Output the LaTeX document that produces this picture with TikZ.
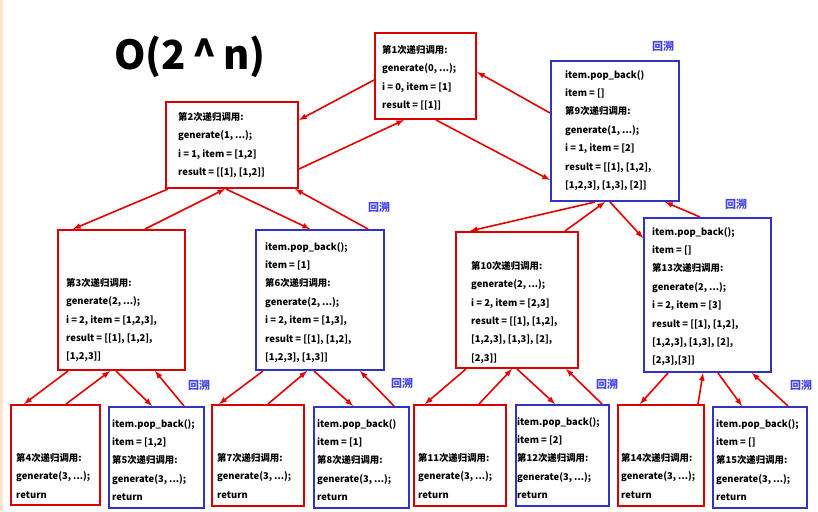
\documentclass[tikz,border=0pt]{standalone}
\usepackage{fontspec}
\setmainfont{Noto Sans CJK SC}
\begin{document}
\begin{tikzpicture}[x=1pt,y=-1pt,
  rbox/.style={draw=red!85!black,line width=2pt,anchor=north west,inner sep=0pt},
  bbox/.style={draw=blue!70!black!80!white,line width=2pt,anchor=north west,inner sep=0pt},
  txt/.style={anchor=north west,inner sep=0pt,yshift=-3pt,align=left,font=\fontsize{9.4}{18.4}\selectfont\bfseries},
  hs/.style={anchor=center,inner sep=0pt,text=blue!70!white!90!black,font=\fontsize{11}{12}\selectfont\bfseries},
  arr/.style={draw=red!90!black,line width=1.6pt,-latex}]
\fill[white] (0,0) rectangle (818,511);
\fill[orange!20!white] (0,0) rectangle (3,511);
\useasboundingbox (0,0) rectangle (818,511);
\node[anchor=center,font=\fontsize{40}{42}\selectfont\bfseries] (title) at (190,57) {O(2\,\^{}\,n)};
% boxes
\newcommand\bx[6]{\node[#1,minimum width=#4,minimum height=#5] (#6) at (#2,#3) {};}
\bx{rbox}{374}{32}{101}{86}{b1}
\bx{rbox}{165}{101}{132}{86}{b2}
\bx{bbox}{550}{60}{128}{140}{b9}
\bx{rbox}{57}{229}{127}{140}{b3}
\bx{bbox}{255}{229}{128}{140}{b6}
\bx{rbox}{455}{231}{122}{136}{b10}
\bx{bbox}{643}{217}{127}{154}{b13}
\bx{rbox}{10}{404}{89}{100}{b4}
\bx{bbox}{108}{406}{95}{101}{b5}
\bx{rbox}{211}{404}{92}{101}{b7}
\bx{bbox}{313}{406}{95}{101}{b8}
\bx{rbox}{413}{404}{92}{101}{b11}
\bx{bbox}{515}{404}{93}{101}{b12}
\bx{rbox}{617}{404}{86}{101}{b14}
\bx{bbox}{712}{406}{94}{101}{b15}
% texts
\node[txt] (t1) at (382,42) {第1次递归调用:\\generate(0, ...);\\i = 0, item = [1]\\result = [[1]]};
\node[txt] (t2) at (178,109) {第2次递归调用:\\generate(1, ...);\\i = 1, item = [1,2]\\result = [[1], [1,2]]};
\node[txt] (t9) at (565,67) {item.pop\_back()\\item = []\\第9次递归调用:\\generate(1, ...);\\i = 1, item = [2]\\result = [[1], [1,2],\\{}[1,2,3], [1,3], [2]]};
\node[txt] (t3) at (66,275) {第3次递归调用:\\generate(2, ...);\\i = 2, item = [1,2,3],\\result = [[1], [1,2],\\{}[1,2,3]]};
\node[txt] (t6) at (265,239) {item.pop\_back();\\item = [1]\\第6次递归调用:\\generate(2, ...);\\i = 2, item = [1,3],\\result = [[1], [1,2],\\{}[1,2,3], [1,3]]};
\node[txt] (t10) at (471,258) {第10次递归调用:\\generate(2, ...);\\i = 2, item = [2,3]\\result = [[1], [1,2],\\{}[1,2,3], [1,3], [2],\\{}[2,3]]};
\node[txt] (t13) at (652,224) {item.pop\_back();\\item = []\\第13次递归调用:\\generate(2, ...);\\i = 2, item = [3]\\result = [[1], [1,2],\\{}[1,2,3], [1,3], [2],\\{}[2,3],[3]]};
\node[txt] (t4) at (16,450) {第4次递归调用:\\generate(3, ...);\\return};
\node[txt] (t5) at (112,416) {item.pop\_back();\\item = [1,2]\\第5次递归调用:\\generate(3, ...);\\return};
\node[txt] (t7) at (217,450) {第7次递归调用:\\generate(3, ...);\\return};
\node[txt] (t8) at (317,416) {item.pop\_back()\\item = [1]\\第8次递归调用:\\generate(3, ...);\\return};
\node[txt] (t11) at (418,450) {第11次递归调用:\\generate(3, ...);\\return};
\node[txt] (t12) at (517,414) {item.pop\_back();\\item = [2]\\第12次递归调用:\\generate(3, ...);\\return};
\node[txt] (t14) at (621,450) {第14次递归调用:\\generate(3, ...);\\return};
\node[txt] (t15) at (716,416) {item.pop\_back();\\item = []\\第15次递归调用:\\generate(3, ...);\\return};
% backtrack labels
\node[hs] (h1) at (663,46) {回溯};
\node[hs] (h2) at (379,207) {回溯};
\node[hs] (h3) at (736,204) {回溯};
\node[hs] (h4) at (199,385) {回溯};
\node[hs] (h5) at (402,383) {回溯};
\node[hs] (h6) at (607,384) {回溯};
\node[hs] (h7) at (801,385) {回溯};
% arrows
\draw[arr] ([yshift=-48]b1.north west) -- ([yshift=-19]b2.north east);
\draw[arr] ([yshift=20]b2.south east) -- ([xshift=30]b1.south west);
\draw[arr] ([xshift=62]b1.south west) -- ([yshift=22]b9.south west);
\draw[arr] ([yshift=-53]b9.north west) -- ([yshift=-40]b1.north east);
\draw[arr] ([xshift=3]b2.south west) -- ([xshift=16]b3.north west);
\draw[arr] ([xshift=88]b3.north west) -- ([xshift=60]b2.south west);
\draw[arr] ([xshift=61]b2.south west) -- ([xshift=55]b6.north west);
\draw[arr] ([xshift=113]b6.north west) -- ([xshift=130]b2.south west);
\draw[arr] ([xshift=45]b9.south west) -- ([xshift=15]b10.north west);
\draw[arr] ([xshift=110]b10.north west) -- ([xshift=55]b9.south west);
\draw[arr] ([xshift=60]b9.south west) -- ([yshift=-21]b13.north west);
\draw[arr] ([xshift=57]b13.north west) -- ([xshift=115]b9.south west);
\draw[arr] ([xshift=11]b3.south west) -- ([xshift=14]b4.north west);
\draw[arr] ([xshift=56]b4.north west) -- ([xshift=53]b3.south west);
\draw[arr] ([xshift=59]b3.south west) -- ([xshift=44]b5.north west);
\draw[arr] ([xshift=76]b5.north west) -- ([xshift=98]b3.south west);
\draw[arr] ([xshift=8]b6.south west) -- ([xshift=8]b7.north west);
\draw[arr] ([xshift=57]b7.north west) -- ([xshift=52]b6.south west);
\draw[arr] ([xshift=59]b6.south west) -- ([xshift=40]b8.north west);
\draw[arr] ([xshift=81]b8.north west) -- ([xshift=105]b6.south west);
\draw[arr] ([xshift=11]b10.south west) -- ([xshift=12]b11.north west);
\draw[arr] ([xshift=66]b11.north west) -- ([xshift=57]b10.south west);
\draw[arr] ([xshift=62]b10.south west) -- ([xshift=40]b12.north west);
\draw[arr] ([xshift=87]b12.north west) -- ([xshift=111]b10.south west);
\draw[arr] ([xshift=25]b13.south west) -- ([xshift=23]b14.north west);
\draw[arr] ([xshift=81]b14.north west) -- ([xshift=60]b13.south west);
\draw[arr] ([xshift=75]b13.south west) -- ([xshift=30]b15.north west);
\draw[arr] ([xshift=76]b15.north west) -- ([xshift=109]b13.south west);
\end{tikzpicture}
\end{document}
